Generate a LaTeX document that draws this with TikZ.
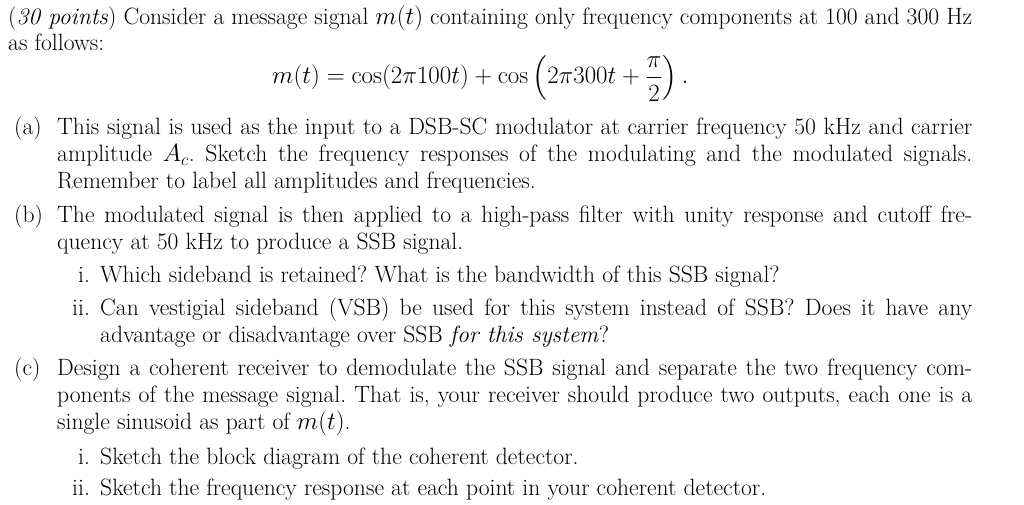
\documentclass[tikz,border=0pt]{standalone}
\usepackage{amsmath}
\begin{document}
\frenchspacing
\begin{tikzpicture}[x=1pt,y=-1pt,
  txt/.style={anchor=base west,inner sep=0pt,font=\fontsize{23.6}{28}\selectfont}]
\useasboundingbox[fill=white] (0,0) rectangle (1024,505);
\newcommand{\jl}[1]{\makebox[915pt][s]{#1}}
\node[txt] (l1) at (8,25) {\makebox[964pt][s]{(\textit{30 points}) Consider a message signal $m(t)$ containing only frequency components at 100 and 300 Hz}};
\node[txt] (l2) at (8,51) {as follows:};
\node[txt] (eq) at (272,84) {$m(t)=\cos(2\pi100t)+\cos\left(2\pi300t+\dfrac{\pi}{2}\right).$};
\node[txt] (a) at (14,135) {(a)};
\node[txt] (a1) at (57,135) {\jl{This signal is used as the input to a DSB-SC modulator at carrier frequency 50 kHz and carrier}};
\node[txt] (a2) at (57,162) {\jl{amplitude $A_c$. Sketch the frequency responses of the modulating and the modulated signals.}};
\node[txt] (a3) at (57,189) {Remember to label all amplitudes and frequencies.};
\node[txt] (b) at (14,222) {(b)};
\node[txt] (b1) at (57,222) {\jl{The modulated signal is then applied to a high-pass filter with unity response and cutoff fre-}};
\node[txt] (b2) at (57,249) {quency at 50 kHz to produce a SSB signal.};
\node[txt] (bi) at (78,282) {i.};
\node[txt] (bi1) at (100,282) {Which sideband is retained? What is the bandwidth of this SSB signal?};
\node[txt] (bii) at (72,315) {ii.};
\node[txt] (bii1) at (100,315) {\makebox[872pt][s]{Can vestigial sideband (VSB) be used for this system instead of SSB? Does it have any}};
\node[txt] (bii2) at (100,342) {advantage or disadvantage over SSB \textit{for this system}?};
\node[txt] (c) at (14,375) {(c)};
\node[txt] (c1) at (57,375) {\jl{Design a coherent receiver to demodulate the SSB signal and separate the two frequency com-}};
\node[txt] (c2) at (57,402) {\jl{ponents of the message signal. That is, your receiver should produce two outputs, each one is a}};
\node[txt] (c3) at (57,429) {single sinusoid as part of $m(t)$.};
\node[txt] (ci) at (78,464) {i.};
\node[txt] (ci1) at (100,464) {Sketch the block diagram of the coherent detector.};
\node[txt] (cii) at (72,495) {ii.};
\node[txt] (cii1) at (100,495) {Sketch the frequency response at each point in your coherent detector.};
\end{tikzpicture}
\end{document}
